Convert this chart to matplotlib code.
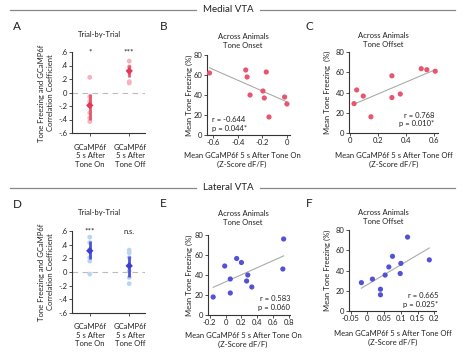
import matplotlib
matplotlib.use("Agg")
import matplotlib.pyplot as plt
import numpy as np

plt.rcParams['font.family'] = ['Lato', 'DejaVu Sans']

W, H = 474, 358

# ---------------- data ----------------
cats = ["GCaMP6f\n5 s After\nTone On", "GCaMP6f\n5 s After\nTone Off"]
yticks_corr = [0.6, 0.4, 0.2, 0, -0.2, -0.4, -0.6]
yticklabels_corr = [".6", ".4", ".2", "0", "-.2", "-.4", "-.6"]

# Panel A (medial, trial-by-trial)
a_on_pts = [0.225, -0.06, -0.13, -0.2, -0.3, -0.38, -0.43]
a_off_pts = [0.465, 0.38, 0.31, 0.16, 0.14]
a_mean = [-0.19, 0.32]
a_low = [-0.40, 0.235]
a_high = [-0.02, 0.41]
a_sig = ["*", "***"]

# Panel D (lateral, trial-by-trial)
d_on_pts = [0.51, 0.43, 0.33, 0.21, 0.16, -0.03]
d_off_pts = [0.32, 0.28, 0.21, 0.09, 0.015, -0.08, -0.17]
d_mean = [0.31, 0.09]
d_low = [0.19, -0.08]
d_high = [0.46, 0.235]
d_sig = ["***", "n.s."]

# Panel B (medial, onset)
b_x = [-0.63, -0.335, -0.324, -0.168, -0.30, -0.195, -0.184, -0.019, 0.0, -0.146]
b_y = [62, 65, 58, 63, 40, 44, 37, 38, 31, 18]
b_stats = "r = -0.644\np = 0.044*"

# Panel C (medial, offset)
c_x = [0.029, 0.048, 0.095, 0.15, 0.30, 0.30, 0.36, 0.51, 0.55, 0.61]
c_y = [29, 42.5, 36.5, 16, 56.5, 35, 38.5, 63.5, 62.5, 61]
c_stats = "r = 0.768\np = 0.010*"

# Panel E (lateral, onset)
e_x = [-0.155, -0.01, 0.06, 0.06, 0.14, 0.20, 0.28, 0.265, 0.33, 0.73, 0.72]
e_y = [18, 49, 36, 22, 56.5, 52.5, 40, 34, 28, 76, 46]
e_stats = "r = 0.583\np = 0.060"

# Panel F (lateral, offset)
f_x = [-0.018, 0.015, 0.039, 0.039, 0.053, 0.064, 0.075, 0.098, 0.10, 0.12, 0.185]
f_y = [28, 31.5, 21.5, 16, 35.5, 43.5, 54, 37, 47, 73, 50.5]
f_stats = "r = 0.665\np = 0.025*"

RED = "#E8566E"
RED_D = "#E23A58"
RED_L = "#F6B3BE"
BLUE = "#5252D6"
BLUE_D = "#3E3ED0"
BLUE_L = "#B9D6EE"
LINE = "#A7ADA7"
TXT = "#222222"

FS = 5.5

fig = plt.figure(figsize=(W / 100, H / 100), dpi=100)


def ax_px(x0, y0, x1, y1):
    return fig.add_axes([x0 / W, 1 - y1 / H, (x1 - x0) / W, (y1 - y0) / H])


def ftext(x, y, s, **kw):
    kw.setdefault('fontsize', FS)
    kw.setdefault('color', TXT)
    return fig.text(x / W, 1 - y / H, s, **kw)


def style(ax):
    for s in ['top', 'right']:
        ax.spines[s].set_visible(False)
    for s in ['left', 'bottom']:
        ax.spines[s].set_linewidth(0.8)
        ax.spines[s].set_color('#333333')
    ax.tick_params(labelsize=FS, width=0.6, length=2, pad=1.2, colors='#333333', labelcolor=TXT)


def corr_panel(box, pts_list, mean, low, high, sig, cl, cd, cm):
    ax = ax_px(*box)
    style(ax)
    ax.set_xlim(0.55, 2.4)
    ax.set_ylim(-0.6, 0.6)
    ax.axhline(0, color='#BBBBBB', lw=0.8, ls=(0, (5, 4)), zorder=0)
    for i, pts in enumerate(pts_list):
        xi = i + 1
        ax.scatter([xi] * len(pts), pts, s=12, color=cl, edgecolor='none', zorder=2)
        ax.plot([xi, xi], [low[i], high[i]], color=cd, lw=2.0, zorder=3, solid_capstyle='butt')
        ax.scatter([xi], [mean[i]], s=14, color=cm, marker='D', edgecolor='none', zorder=4)
        ax.text(xi, 0.6, sig[i], ha='center', va='center', fontsize=FS + 0.5 if sig[i] != 'n.s.' else FS,
                color=TXT, clip_on=False)
    ax.set_yticks(yticks_corr)
    ax.set_yticklabels(yticklabels_corr)
    ax.set_xticks([1, 2])
    ax.set_xticklabels([])
    return ax


def scatter_panel(box, x, y, xlim, xticks, xticklabels, color, stats, stats_pos, stats_ha):
    ax = ax_px(*box)
    style(ax)
    ax.set_xlim(*xlim)
    ax.set_ylim(0, 80)
    ax.set_yticks([0, 20, 40, 60, 80])
    ax.set_xticks(xticks)
    ax.set_xticklabels(xticklabels)
    xa = np.array(x)
    ya = np.array(y)
    k, b = np.polyfit(xa, ya, 1)
    xs = np.array([xa.min(), xa.max()])
    ax.plot(xs, k * xs + b, color=LINE, lw=0.8, zorder=1)
    ax.scatter(xa, ya, s=14, color=color, edgecolor='none', zorder=3, clip_on=False)
    ax.text(stats_pos[0], stats_pos[1], stats, transform=ax.transAxes, ha=stats_ha, va='bottom',
            fontsize=FS, color=TXT, linespacing=1.3)
    return ax


# --- headers ---
for (yy, label) in [(10, "Medial VTA"), (188, "Lateral VTA")]:
    fig.add_artist(plt.Line2D([10 / W, 196 / W], [1 - yy / H] * 2, color='#888888', lw=0.9))
    fig.add_artist(plt.Line2D([260 / W, 455 / W], [1 - yy / H] * 2, color='#888888', lw=0.9))
    ftext(228, yy, label, ha='center', va='center', fontsize=7.0)

# --- letters ---
for (x, y, s) in [(13, 27, "A"), (160, 26, "B"), (306, 26, "C"),
                  (13, 205, "D"), (160, 204, "E"), (306, 204, "F")]:
    ftext(x, y, s, ha='left', va='center', fontsize=8.5)

# --- panel A ---
corr_panel((72, 52, 145, 133), [a_on_pts, a_off_pts], a_mean, a_low, a_high, a_sig, RED_L, RED, RED_D)
ftext(99, 34, "Trial-by-Trial", ha='center', va='center')
ftext(46, 93, "Tone Freezing and GCaMP6f\nCorrelation Coefficient", ha='center', va='center',
      rotation=90, linespacing=1.25)
for xc, lab in zip([90, 130], cats):
    ftext(xc, 156, lab, ha='center', va='center', linespacing=1.3)

# --- panel D ---
corr_panel((72, 231, 145, 313), [d_on_pts, d_off_pts], d_mean, d_low, d_high, d_sig, BLUE_L, BLUE, BLUE_D)
ftext(99, 212, "Trial-by-Trial", ha='center', va='center')
ftext(46, 272, "Tone Freezing and GCaMP6f\nCorrelation Coefficient", ha='center', va='center',
      rotation=90, linespacing=1.25)
for xc, lab in zip([90, 130], cats):
    ftext(xc, 335, lab, ha='center', va='center', linespacing=1.3)

# --- panel B ---
scatter_panel((207, 55, 290, 135), b_x, b_y, (-0.65, 0.025), [-0.6, -0.4, -0.2, 0],
              ["-0.6", "-0.4", "-0.2", "0"], RED, b_stats, (0.06, 0.04), 'left')
ftext(243, 41, "Across Animals\nTone Onset", ha='center', va='center', linespacing=1.3)
ftext(189, 95, "Mean Tone Freezing (%)", ha='center', va='center', rotation=90)
ftext(242, 160, "Mean GCaMP6f 5 s After Tone On\n(Z-Score dF/F)", ha='center', va='center', linespacing=1.35)

# --- panel C ---
scatter_panel((349, 52, 438, 133), c_x, c_y, (-0.007, 0.63), [0, 0.2, 0.4, 0.6],
              ["0", "0.2", "0.4", "0.6"], RED, c_stats, (0.96, 0.07), 'right')
ftext(383, 40, "Across Animals\nTone Offset", ha='center', va='center', linespacing=1.3)
ftext(327, 92, "Mean Tone Freezing  (%)", ha='center', va='center', rotation=90)
ftext(394, 160, "Mean GCaMP6f 5 s After Tone Off\n(Z-Score dF/F)", ha='center', va='center', linespacing=1.35)

# --- panel E ---
scatter_panel((208, 235, 290, 315), e_x, e_y, (-0.22, 0.81), [-0.2, 0, 0.2, 0.4, 0.6, 0.8],
              ["-0.2", "0", "0.2", "0.4", "0.6", "0.8"], BLUE, e_stats, (1.0, 0.05), 'right')
ftext(243, 218, "Across Animals\nTone Onset", ha='center', va='center', linespacing=1.3)
ftext(189, 275, "Mean Tone Freezing (%)", ha='center', va='center', rotation=90)
ftext(243, 340, "Mean GCaMP6f 5 s After Tone On\n(Z-Score dF/F)", ha='center', va='center', linespacing=1.35)

# --- panel F ---
scatter_panel((349, 230, 436, 311), f_x, f_y, (-0.055, 0.205), [-0.05, 0, 0.05, 0.1, 0.15, 0.2],
              ["-0.05", "0", "0.05", "0.1", "0.15", "0.2"], BLUE, f_stats, (1.03, 0.04), 'right')
ftext(383, 217, "Across Animals\nTone Offset", ha='center', va='center', linespacing=1.3)
ftext(327, 270, "Mean Tone Freezing (%)", ha='center', va='center', rotation=90)
ftext(393, 338, "Mean GCaMP6f 5 s After Tone Off\n(Z-Score dF/F)", ha='center', va='center', linespacing=1.35)

fig.savefig("out.png", dpi=100, facecolor='white')
